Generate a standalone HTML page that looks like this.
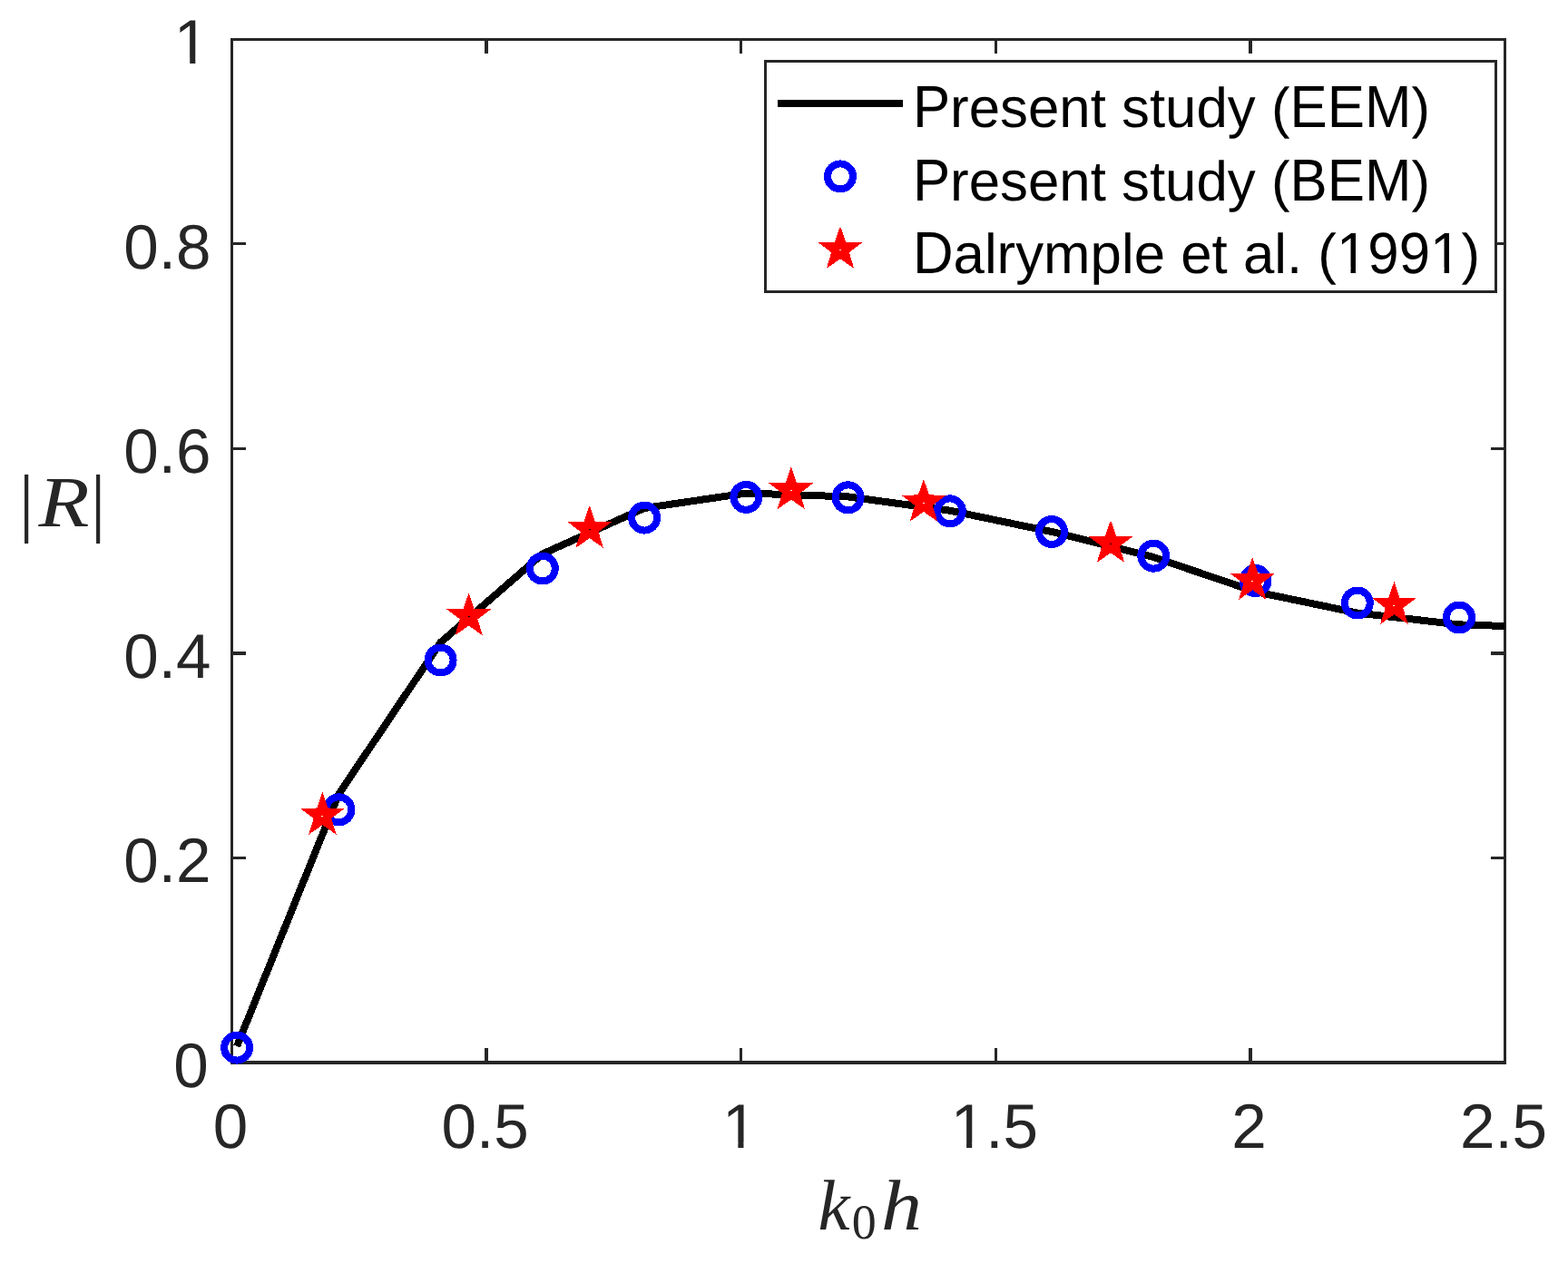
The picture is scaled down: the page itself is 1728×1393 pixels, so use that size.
<!DOCTYPE html>
<html><head><meta charset="utf-8"><title>|R| vs k0h</title>
<style>
html,body{margin:0;padding:0;background:#fff;}
body{width:1728px;height:1393px;overflow:hidden;}
svg{display:block;}
text{text-rendering:geometricPrecision;}
.tk{font-family:"Liberation Sans",Arial,Helvetica,sans-serif;font-size:69.2px;fill:#262626;}
.lg{font-family:"Liberation Sans",Arial,Helvetica,sans-serif;font-size:61.8px;fill:#000;}
.mi{font-family:"Liberation Serif","Times New Roman",serif;font-style:italic;fill:#262626;}
.mr{font-family:"Liberation Serif","Times New Roman",serif;fill:#262626;}
</style></head><body>
<svg width="1728" height="1393" viewBox="0 0 1728 1393">
<defs><clipPath id="pa"><rect x="255.5" y="43.5" width="1403.0" height="1127.5"/></clipPath></defs>
<rect width="1728" height="1393" fill="#fff"/>

<g fill="#262626" shape-rendering="crispEdges">
<rect x="254" y="42" width="3" height="1131"/>
<rect x="1657" y="42" width="3" height="1131"/>
<rect x="254" y="42" width="1406" height="3"/>
<rect x="254" y="1169" width="1406" height="4"/>
<rect x="534" y="1155" width="4" height="14"/><rect x="534" y="45" width="4" height="14"/>
<rect x="815" y="1155" width="3" height="14"/><rect x="815" y="45" width="3" height="14"/>
<rect x="1096" y="1155" width="3" height="14"/><rect x="1096" y="45" width="3" height="14"/>
<rect x="1376" y="1155" width="4" height="14"/><rect x="1376" y="45" width="4" height="14"/>
<rect x="257" y="944" width="14" height="3"/><rect x="1643" y="944" width="14" height="3"/>
<rect x="257" y="718" width="14" height="4"/><rect x="1643" y="718" width="14" height="4"/>
<rect x="257" y="493" width="14" height="3"/><rect x="1643" y="493" width="14" height="3"/>
<rect x="257" y="267" width="14" height="3"/><rect x="1643" y="267" width="14" height="3"/>
</g>
<path d="M261.1 1153.0 L373.4 875.0 L485.6 708.0 L597.8 610.5 L710.1 560.0 L822.3 543.5 L934.6 547.4 L1046.8 562.7 L1159.0 586.0 L1271.3 614.0 L1383.5 652.1 L1495.8 675.5 L1608.0 688.4 L1660.0 690.0" fill="none" stroke="#000" stroke-width="8" stroke-linejoin="round" stroke-linecap="butt" clip-path="url(#pa)" shape-rendering="crispEdges"/>
<g fill="none" stroke="#0000ff" stroke-width="8" shape-rendering="crispEdges">
<circle cx="261.1" cy="1154.6" r="14"/>
<circle cx="373.4" cy="892.3" r="14"/>
<circle cx="485.6" cy="727.5" r="14"/>
<circle cx="597.8" cy="626.5" r="14"/>
<circle cx="710.1" cy="570.6" r="14"/>
<circle cx="822.3" cy="547.9" r="14"/>
<circle cx="934.6" cy="548.3" r="14"/>
<circle cx="1046.8" cy="563.3" r="14"/>
<circle cx="1159.0" cy="586.0" r="14"/>
<circle cx="1271.3" cy="612.7" r="14"/>
<circle cx="1383.5" cy="640.0" r="14"/>
<circle cx="1495.8" cy="664.5" r="14"/>
<circle cx="1608.0" cy="680.5" r="14"/>
</g>
<g fill="#ff0000" shape-rendering="crispEdges">
<path d="M355.40 872.90 L361.45 890.47 L380.03 890.80 L365.20 901.98 L370.62 919.75 L355.40 909.10 L340.18 919.75 L345.60 901.98 L330.77 890.80 L349.35 890.47Z M354 899h2v1h-2Z" fill-rule="evenodd"/>
<path d="M516.60 653.40 L522.65 670.97 L541.23 671.30 L526.40 682.48 L531.82 700.25 L516.60 689.60 L501.38 700.25 L506.80 682.48 L491.97 671.30 L510.55 670.97Z M516 679h2v1h-2Z" fill-rule="evenodd"/>
<path d="M649.70 557.00 L655.75 574.57 L674.33 574.90 L659.50 586.08 L664.92 603.85 L649.70 593.20 L634.48 603.85 L639.90 586.08 L625.07 574.90 L643.65 574.57Z M649 583h2v1h-2Z" fill-rule="evenodd"/>
<path d="M871.80 514.40 L877.85 531.97 L896.43 532.30 L881.60 543.48 L887.02 561.25 L871.80 550.60 L856.58 561.25 L862.00 543.48 L847.17 532.30 L865.75 531.97Z M871 540h2v1h-2Z" fill-rule="evenodd"/>
<path d="M1017.90 527.85 L1023.95 545.42 L1042.53 545.75 L1027.70 556.93 L1033.12 574.70 L1017.90 564.05 L1002.68 574.70 L1008.10 556.93 L993.27 545.75 L1011.85 545.42Z M1017 554h2v1h-2Z" fill-rule="evenodd"/>
<path d="M1224.00 573.10 L1230.05 590.67 L1248.63 591.00 L1233.80 602.18 L1239.22 619.95 L1224.00 609.30 L1208.78 619.95 L1214.20 602.18 L1199.37 591.00 L1217.95 590.67Z M1223 599h2v1h-2Z" fill-rule="evenodd"/>
<path d="M1380.30 614.10 L1386.35 631.67 L1404.93 632.00 L1390.10 643.18 L1395.52 660.95 L1380.30 650.30 L1365.08 660.95 L1370.50 643.18 L1355.67 632.00 L1374.25 631.67Z M1379 640h2v1h-2Z" fill-rule="evenodd"/>
<path d="M1536.40 641.00 L1542.45 658.57 L1561.03 658.90 L1546.20 670.08 L1551.62 687.85 L1536.40 677.20 L1521.18 687.85 L1526.60 670.08 L1511.77 658.90 L1530.35 658.57Z M1535 667h2v1h-2Z" fill-rule="evenodd"/>
</g>
<text class="tk" x="229.8" y="1197.8" text-anchor="end">0</text>
<text class="tk" x="232.4" y="972.3" text-anchor="end">0.2</text>
<text class="tk" x="232.4" y="746.8" text-anchor="end">0.4</text>
<text class="tk" x="232.4" y="521.3" text-anchor="end">0.6</text>
<text class="tk" x="232.4" y="295.8" text-anchor="end">0.8</text>
<text class="tk" x="230.3" y="70.3" text-anchor="end" clip-path="url(#c1_0)">1</text>
<text class="tk" x="254.0" y="1265.4" text-anchor="middle">0</text>
<text class="tk" x="534.6" y="1265.4" text-anchor="middle">0.5</text>
<text class="tk" x="815.2" y="1265.4" text-anchor="middle" clip-path="url(#c1_1)">1</text>
<text class="tk" x="1095.8" y="1265.4" text-anchor="middle" clip-path="url(#c1_2)">1.5</text>
<text class="tk" x="1376.4" y="1265.4" text-anchor="middle">2</text>
<text class="tk" x="1657.0" y="1265.4" text-anchor="middle">2.5</text>
<text class="mr" x="20.7" y="580.8" font-size="83.7">|</text>
<text class="mi" font-size="79.4" transform="translate(42.5 579.7) scale(1.155 1)">R</text>
<text class="mr" x="99.7" y="580.8" font-size="83.7">|</text>
<text class="mi" x="901.6" y="1354.5" font-size="79">k</text>
<text class="mr" x="938.7" y="1365.4" font-size="54">0</text>
<text class="mi" font-size="79" transform="translate(971.1 1354.5) scale(1.14 1)">h</text>
<rect x="843.5" y="67.5" width="805" height="254" fill="#fff" stroke="#262626" stroke-width="3"/>
<path d="M857 114H995" stroke="#000" stroke-width="8"/>
<circle cx="926" cy="194.4" r="14" fill="none" stroke="#0000ff" stroke-width="8" shape-rendering="crispEdges"/>
<path d="M926.00 249.10 L932.05 266.67 L950.63 267.00 L935.80 278.18 L941.22 295.95 L926.00 285.30 L910.78 295.95 L916.20 278.18 L901.37 267.00 L919.95 266.67Z M925 275h2v1h-2Z" fill="#ff0000" fill-rule="evenodd" shape-rendering="crispEdges"/>
<text class="lg" x="1005.9" y="140"><tspan font-size="65.38" textLength="41.22" lengthAdjust="spacingAndGlyphs">P</tspan>resent study (<tspan font-size="65.38" textLength="133.92" lengthAdjust="spacingAndGlyphs">EEM</tspan>)</text>
<text class="lg" x="1005.9" y="220.5"><tspan font-size="65.38" textLength="41.22" lengthAdjust="spacingAndGlyphs">P</tspan>resent study (<tspan font-size="65.38" textLength="133.92" lengthAdjust="spacingAndGlyphs">BEM</tspan>)</text>
<text class="lg" x="1005.9" y="301" clip-path="url(#c1_3)"><tspan font-size="65.38" textLength="44.63" lengthAdjust="spacingAndGlyphs">D</tspan>alrymple et al. (<tspan font-size="63.96" textLength="137.48" lengthAdjust="spacingAndGlyphs">1991</tspan>)</text>
<defs><clipPath id="c1_0" clipPathUnits="userSpaceOnUse"><path d="M0 0H1728V1393H0Z M195.59 63.93h13.63v8.37h-13.63Z M215.33 63.93h13.09v8.37h-13.09Z" clip-rule="evenodd"/></clipPath><clipPath id="c1_1" clipPathUnits="userSpaceOnUse"><path d="M0 0H1728V1393H0Z M799.73 1259.03h13.63v8.37h-13.63Z M819.47 1259.03h13.09v8.37h-13.09Z" clip-rule="evenodd"/></clipPath><clipPath id="c1_2" clipPathUnits="userSpaceOnUse"><path d="M0 0H1728V1393H0Z M1051.47 1259.03h13.63v8.37h-13.63Z M1071.22 1259.03h13.09v8.37h-13.09Z" clip-rule="evenodd"/></clipPath><clipPath id="c1_3" clipPathUnits="userSpaceOnUse"><path d="M0 0H1728V1393H0Z M1476.17 295.02h12.33v7.98h-12.33Z M1493.96 295.02h11.85v7.98h-11.85Z M1579.28 295.02h12.33v7.98h-12.33Z M1597.07 295.02h11.85v7.98h-11.85Z" clip-rule="evenodd"/></clipPath></defs>
</svg>
</body></html>
